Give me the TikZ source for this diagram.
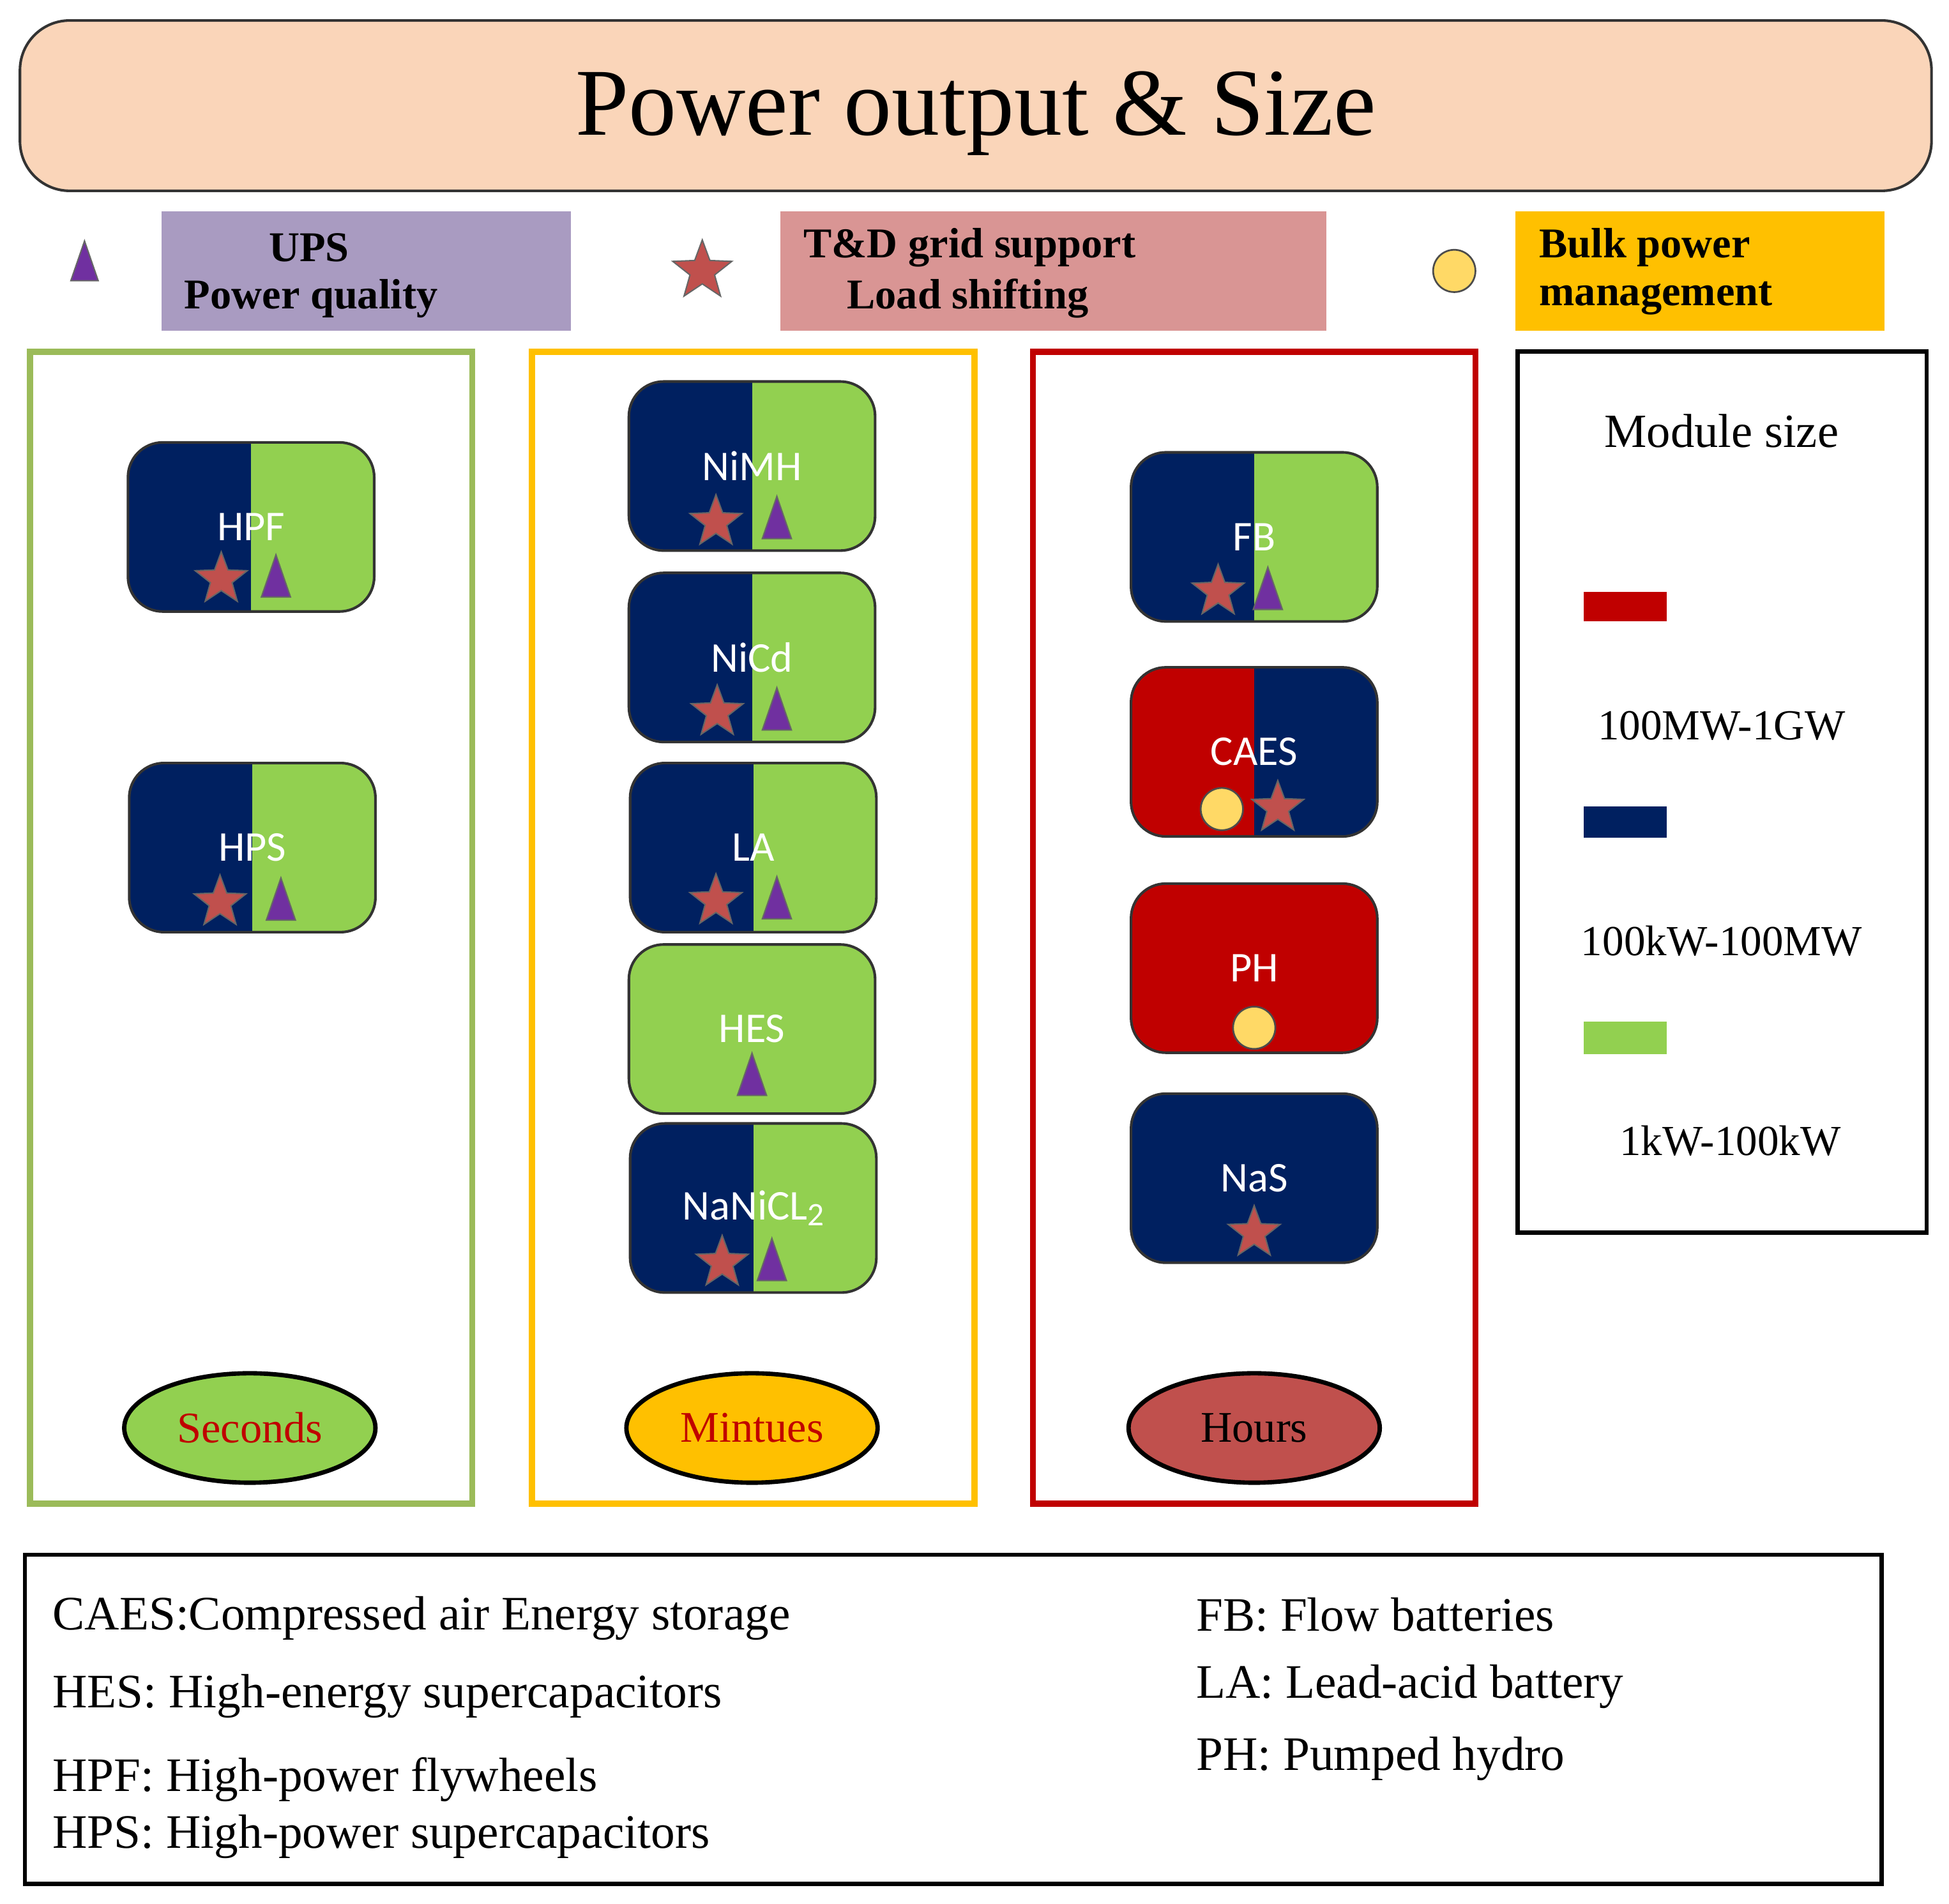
\documentclass[tikz,border=0pt]{standalone}
\usepackage{fontspec}
\setmainfont{Liberation Serif}
\newfontfamily\lbl{Carlito}
\usetikzlibrary{shapes.geometric}
\definecolor{navy}{HTML}{002060}
\definecolor{lgreen}{HTML}{92D050}
\definecolor{dred}{HTML}{C00000}
\definecolor{peach}{HTML}{FAD5B9}
\definecolor{lav}{HTML}{A99BC1}
\definecolor{rose}{HTML}{D99594}
\definecolor{gold}{HTML}{FFC000}
\definecolor{starc}{HTML}{C0504D}
\definecolor{purp}{HTML}{7030A0}
\definecolor{yel}{HTML}{FFD966}
\definecolor{olive}{HTML}{9BBB59}
\tikzset{
 mod/.style={draw=black!80,line width=0.6pt,rounded corners=0.28cm,minimum width=1.98cm,minimum height=1.36cm,text=white,font=\lbl\fontsize{9.7}{11}\selectfont},
 stm/.style={star,star points=5,star point ratio=2.4,minimum size=0.44cm,inner sep=0,fill=starc,draw=black!60,line width=0.3pt},
 trm/.style={isosceles triangle,isosceles triangle apex angle=38,shape border rotate=90,minimum height=0.34cm,minimum width=0.22cm,inner sep=0,fill=purp,draw=black!60,line width=0.3pt,yshift=-0.05cm},
 cim/.style={circle,minimum size=0.34cm,inner sep=0,fill=yel,draw=black!70,line width=0.4pt},
 frame/.style={line width=1.4pt},
 ell/.style={ellipse,draw=black,line width=1pt,minimum width=2.02cm,minimum height=0.88cm,font=\fontsize{10}{12}\selectfont},
 leg/.style={font=\bfseries\fontsize{9.7}{11}\selectfont,anchor=west},
 ms/.style={font=\fontsize{9.8}{12}\selectfont},
 bt/.style={font=\fontsize{11}{13}\selectfont,anchor=west},
}
\newcommand\modbox[6]{%
 \begin{scope}
 \clip[rounded corners=0.28cm] (#2-99,#3-68) rectangle (#2+99,#3+68);
 \fill[#4] (#2-100,#3-70) rectangle (#2,#3+70);
 \fill[#5] (#2,#3-70) rectangle (#2+100,#3+70);
 \end{scope}
 \node[mod] (#1) at (#2,#3) {#6};}
\begin{document}
\begin{tikzpicture}[x=0.01cm,y=-0.01cm]
\useasboundingbox (0,0) rectangle (1568,1532);
\node[draw=black!80,fill=peach,rounded corners=0.4cm,minimum width=15.37cm,minimum height=1.37cm,line width=0.6pt] (title) at (785,85) {};
\node[font=\fontsize{21.9}{26}\selectfont] at (785,91) {Power output \& Size};
% legend
\node[trm,minimum height=0.32cm,yshift=0.05cm] (ltri) at (68,218) {};
\node[fill=lav,minimum width=3.29cm,minimum height=0.96cm] (ups) at (294.5,218) {};
\node[leg] at (204,199) {UPS};
\node[leg] at (136,240) {Power quality};
\node[stm,minimum size=0.5cm] (lstar) at (565,218) {};
\node[fill=rose,minimum width=4.39cm,minimum height=0.96cm] (td) at (847.5,218) {};
\node[leg] at (634,199) {T\&D grid support};
\node[leg] at (669,240) {Load shifting};
\node[cim] (lcir) at (1170,218) {};
\node[fill=gold,minimum width=2.97cm,minimum height=0.96cm] (bulk) at (1367.5,218) {};
\node[leg] at (1226,199) {Bulk power};
\node[leg] at (1226,240) {management};
% frames
\draw[frame,olive] (24,283) rectangle (380,1210);
\draw[frame,gold] (428,283) rectangle (784,1210);
\draw[frame,dred] (831,283) rectangle (1187,1210);
\draw[line width=1pt] (1221,283) rectangle (1550,992);
% modules
\modbox{hpf}{202}{424}{navy}{lgreen}{HPF}
\node[stm] at (178,466) {}; \node[trm] at (222,467) {};
\modbox{hps}{203}{682}{navy}{lgreen}{HPS}
\node[stm] at (177,726) {}; \node[trm] at (226,727) {};
\modbox{nimh}{605}{375}{navy}{lgreen}{NiMH}
\node[stm] at (576,420) {}; \node[trm] at (625,420) {};
\modbox{nicd}{605}{529}{navy}{lgreen}{NiCd}
\node[stm] at (577,573) {}; \node[trm] at (625,574) {};
\modbox{la}{606}{682}{navy}{lgreen}{LA}
\node[stm] at (576,725) {}; \node[trm] at (625,726) {};
\modbox{hes}{605}{828}{lgreen}{lgreen}{HES}
\node[trm] at (605,868) {};
\modbox{nanicl}{606}{972}{navy}{lgreen}{NaNiCL\raisebox{-0.3ex}{\fontsize{7.5}{8}\selectfont 2}}
\node[stm] at (581,1016) {}; \node[trm] at (621,1017) {};
\modbox{fb}{1009}{432}{navy}{lgreen}{FB}
\node[stm] at (980,476) {}; \node[trm] at (1020,477) {};
\modbox{caes}{1009}{605}{dred}{navy}{CAES}
\node[cim] at (983,651) {}; \node[stm] at (1028,650) {};
\modbox{ph}{1009}{779}{dred}{dred}{PH}
\node[cim] at (1009,827) {};
\modbox{nas}{1009}{948}{navy}{navy}{NaS}
\node[stm] at (1009,992) {};
% ellipses
\node[ell,fill=lgreen,text=dred] (sec) at (201,1149) {Seconds};
\node[ell,fill=gold,text=dred] (min) at (605,1149) {Mintues};
\node[ell,fill=starc] (hrs) at (1009,1149) {Hours};
% module size
\node[ms,font=\fontsize{10.9}{12}\selectfont] at (1385,347) {Module size};
\fill[dred] (1274,476) rectangle (1341,500);
\node[ms] at (1385,584) {100MW-1GW};
\fill[navy] (1274,649) rectangle (1341,674);
\node[ms] at (1385,757) {100kW-100MW};
\fill[lgreen] (1274,822) rectangle (1341,848);
\node[ms] at (1392,918) {1kW-100kW};
% bottom
\draw[line width=1pt] (20,1251) rectangle (1514,1516);
\node[bt] at (30,1302) {CAES:Compressed air Energy storage};
\node[bt] at (30,1365) {HES: High-energy supercapacitors};
\node[bt] at (30,1432) {HPF: High-power flywheels};
\node[bt] at (30,1478) {HPS: High-power supercapacitors};
\node[bt] at (950,1299) {FB: Flow batteries};
\node[bt] at (950,1357) {LA: Lead-acid battery};
\node[bt] at (950,1415) {PH: Pumped hydro};
\end{tikzpicture}
\end{document}
